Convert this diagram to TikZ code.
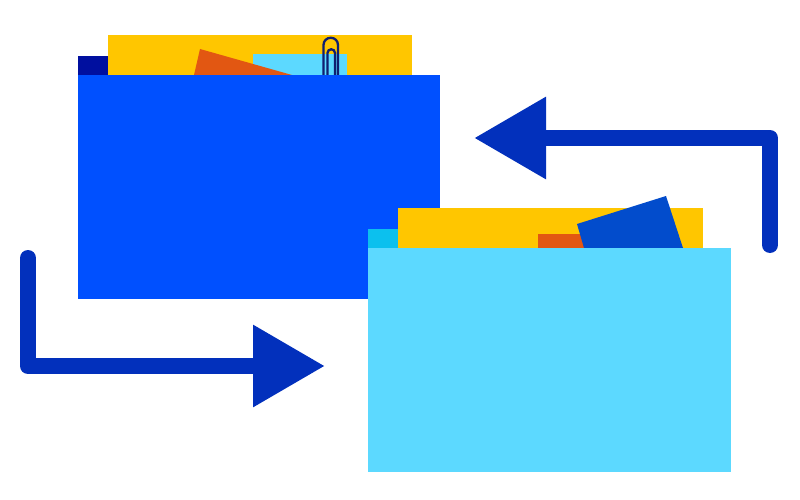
\documentclass[tikz,border=0pt]{standalone}
\usetikzlibrary{arrows.meta}
\definecolor{darkblue}{HTML}{000F9F}
\definecolor{mainblue}{HTML}{0050FF}
\definecolor{midblue}{HTML}{024CCC}
\definecolor{arrowblue}{HTML}{0230BC}
\definecolor{skyblue}{HTML}{5CD9FF}
\definecolor{tabcyan}{HTML}{0CC0EE}
\definecolor{paper}{HTML}{FFC600}
\definecolor{sheet}{HTML}{E25712}
\definecolor{clipblue}{HTML}{0F1F70}
\tikzset{
  box/.style={anchor=north west, inner sep=0pt, outer sep=0pt, minimum width=#1},
  turn/.style={draw=arrowblue, line width=16pt, line cap=round, line join=round,
    -{Triangle[length=72pt,width=78pt]}}
}
\begin{document}
\begin{tikzpicture}[x=1pt,y=-1pt]
  \useasboundingbox (0,0) rectangle (800,500);
  \fill[white] (0,0) rectangle (800,500);

  \node[box=30pt, minimum height=19pt, fill=darkblue] (tabA) at (78,56) {};
  \node[box=304pt, minimum height=40pt, fill=paper] (paperA) at (108,35) {};
  \node[box=94pt, minimum height=21pt, fill=skyblue] (noteA) at (253,54) {};
  \fill[sheet] (200,49) -- (194,75) -- (292,75) -- cycle;
  \draw[clipblue, line width=2.3pt]
    (323.5,75) -- (323.5,45) arc[start angle=180, end angle=360, radius=7.25] -- (338,75)
    (327.5,75) -- (327.5,53) arc[start angle=180, end angle=360, radius=3.75] -- (335,75);
  \node[box=362pt, minimum height=224pt, fill=mainblue] (folderA) at (78,75) {};

  \node[box=30pt, minimum height=19pt, fill=tabcyan] (tabB) at (368,229) {};
  \node[box=305pt, minimum height=40pt, fill=paper] (paperB) at (398,208) {};
  \node[box=47pt, minimum height=14pt, fill=sheet] (noteB) at (538,234) {};
  \fill[midblue] (577,224) -- (666,196) -- (683,248) -- (584,248) -- cycle;
  \node[box=363pt, minimum height=224pt, fill=skyblue] (folderB) at (368,248) {};

  \coordinate (startA) at (28,258);
  \coordinate (cornerA) at (28,366);
  \coordinate (endA) at (325,366);
  \coordinate (startB) at (770,245);
  \coordinate (cornerB) at (770,138);
  \coordinate (endB) at (474,138);

  \draw[turn] (startA) -- (cornerA) -- (endA);
  \draw[turn] (startB) -- (cornerB) -- (endB);
\end{tikzpicture}
\end{document}
